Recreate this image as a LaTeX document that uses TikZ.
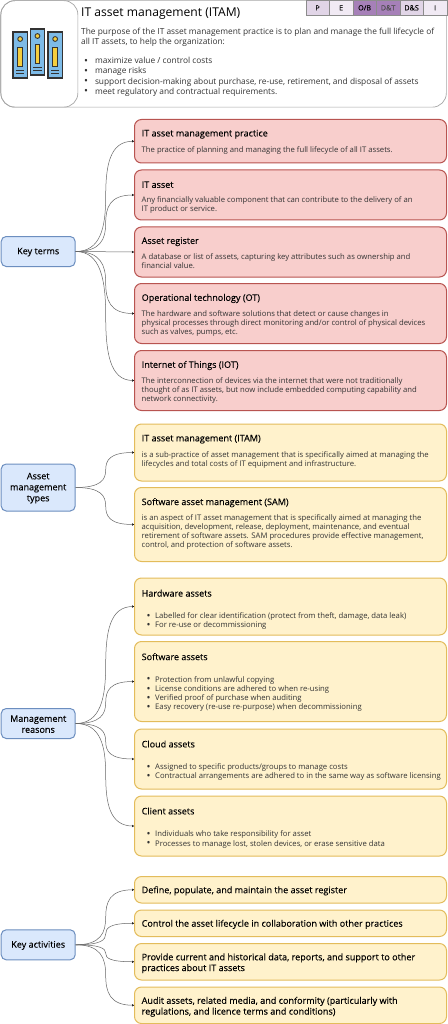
\documentclass[tikz,border=0pt]{standalone}
\usepackage{fontspec}
\setmainfont{Open Sans}
\newfontfamily\headf[FakeBold=0.12]{Open Sans}
\usetikzlibrary{arrows.meta,calc}
\definecolor{rfill}{HTML}{F8CECC}\definecolor{rline}{HTML}{B85450}
\definecolor{yfill}{HTML}{FFF2CC}\definecolor{yline}{HTML}{E3BC5B}
\definecolor{bfill}{HTML}{DAE8FC}\definecolor{bline}{HTML}{6C8EBF}
\definecolor{txt}{HTML}{333333}
\definecolor{tabd}{HTML}{A680B8}\definecolor{tabm}{HTML}{E1D5E7}\definecolor{tabl}{HTML}{F1EAF4}
\definecolor{rack}{HTML}{7DBBE8}\definecolor{rackline}{HTML}{333333}\definecolor{racky}{HTML}{F5CE3E}
\tikzset{
  x=1pt,y=-1pt,
  card/.style={rectangle,rounded corners=7pt,line width=1pt,anchor=north west,inner sep=0pt},
  redcard/.style={card,draw=rline,fill=rfill},
  yelcard/.style={card,draw=yline,fill=yfill},
  keycard/.style={card,rounded corners=5pt,draw=bline,fill=bfill},
  keytxt/.style={align=center,inner sep=0pt,yshift=-0.6pt,font=\headf\fontsize{9.05}{11}\selectfont,text=black},
  head/.style={anchor=west,yshift=-1pt,font=\headf\fontsize{9.05}{11}\selectfont,text=black,inner sep=0pt},
  body/.style={anchor=north west,yshift=-1.8pt,align=left,font=\fontsize{7.7}{9.1}\selectfont,text=txt,inner sep=0pt},
  act/.style={anchor=west,yshift=-0.8pt,align=left,font=\headf\fontsize{9.05}{10.8}\selectfont,text=black,inner sep=0pt},
  conn/.style={draw=black!60,line width=0.5pt,-{Stealth[length=2pt,width=2.4pt,color=black]}},
  tab/.style={draw=black!45,line width=0.7pt,anchor=north west,inner sep=0pt,font=\headf\fontsize{7.2}{9}\selectfont,text=black},
  rackbox/.style={draw=rackline,line width=1.1pt,fill=rack},
  racky/.style={draw=rackline,line width=0.9pt,fill=racky},
  rackl/.style={draw=rackline,line width=0.7pt},
}
\newcommand{\mkcard}[6]{% name, style, x, y0, w, h
  \node[#2,minimum width=#5pt,minimum height=#6pt] (#1) at (#3,#4) {};}
\newcommand{\linkto}[2]{%
  \draw[conn] let \p1=(#1.east),\p2=(#2.west),\n1={\x1+30pt},\n2={(\y1+\y2)/2},\n3={(\y2-\y1)*0.22} in
   (\p1) .. controls (\x1+25pt,\y1) and (\n1,\y1+\n3) .. (\n1,\n2)
   .. controls (\n1,\y2-\n3) and (\n1+4pt,\y2) .. (\p2);}
\newcommand{\bigdot}[1]{\makebox[#1][l]{\hspace{2.4pt}\raisebox{-0.35pt}{\fontsize{10.5}{9}\selectfont\textbullet}}}
\newcommand{\blt}[1]{\bigdot{11pt}#1}
\newcommand{\hlt}[1]{\bigdot{13.3pt}#1}
\begin{document}
\begin{tikzpicture}
\useasboundingbox (0,0) rectangle (447,1024);
\fill[white] (0,0) rectangle (447,1024);
% header
\node[draw=black!35,line width=0.7pt,rounded corners=14pt,anchor=north west,minimum width=445.5pt,minimum height=106.5pt,inner sep=0pt] (hdr) at (0.5,0.3) {};
\node[draw=black!35,line width=0.7pt,rounded corners=14pt,anchor=north west,minimum width=77pt,minimum height=106.5pt,inner sep=0pt] (icon) at (0.5,0.3) {};
\foreach \x/\y in {13/32,30.3/29,48/32}{
  \draw[rackbox] (\x,\y) rectangle (\x+14.3,\y+46);
  \draw[racky] (\x+7.15,\y+7) circle (2.4);
  \draw[racky] (\x+4.7,\y+15.5) rectangle (\x+9.6,\y+34.5);
  \draw[rackl] (\x+3,\y+38.5) -- (\x+11.3,\y+38.5);
  \draw[rackl] (\x+3,\y+41.5) -- (\x+11.3,\y+41.5);
}
\node[anchor=west,inner sep=0pt,font=\fontsize{12.1}{15}\selectfont,text=black] (title) at (81,14) {IT asset management (ITAM)};
\node[body,yshift=0pt,font=\fontsize{8.35}{10.1}\selectfont] (intro) at (81,26.3) {The purpose of the IT asset management practice is to plan and manage the full lifecycle of\\all IT assets, to help the organization:};
\node[body,yshift=0pt,font=\fontsize{8.35}{10.1}\selectfont] (ilist) at (81.5,55.5) {\hlt{maximize value / control costs}\\\hlt{manage risks}\\\hlt{support decision-making about purchase, re-use, retirement, and disposal of assets}\\\hlt{meet regulatory and contractual requirements.}};
% tabs
\node[tab,fill=tabm,minimum width=23.5pt,minimum height=15pt] (tP) at (305.5,0) {P};
\node[tab,fill=tabl,minimum width=23.5pt,minimum height=15pt] (tE) at (329,0) {E};
\node[tab,fill=tabd,minimum width=23.5pt,minimum height=15pt] (tO) at (352.5,0) {O/B};
\node[tab,fill=tabd,minimum width=23.5pt,minimum height=15pt,text=black!70] (tD) at (376,0) {D\&T};
\node[tab,fill=tabm,minimum width=23.5pt,minimum height=15pt] (tS) at (399.5,0) {D\&S};
\node[tab,fill=tabl,minimum width=23.5pt,minimum height=15pt] (tI) at (423,0) {I};
% key nodes
\node[keycard,minimum width=74pt,minimum height=30pt] (kt) at (0.7,236) {};
\node[keytxt] (ktt) at (kt.center) {Key terms};
\node[keycard,minimum width=74pt,minimum height=47pt] (am) at (0.7,463.5) {};
\node[keytxt] (amt) at (am.center) {Asset\\management\\types};
\node[keycard,minimum width=74pt,minimum height=30pt] (mr) at (0.7,708) {};
\node[keytxt] (mrt) at (mr.center) {Management\\reasons};
\node[keycard,minimum width=74pt,minimum height=30pt] (ka) at (0.7,929.3) {};
\node[keytxt] (kat) at (ka.center) {Key activities};
% red cards
\mkcard{a1}{redcard}{134}{119}{312}{43.5}
\mkcard{a2}{redcard}{134}{169.5}{312}{50}
\mkcard{a3}{redcard}{134}{226.5}{312}{50}
\mkcard{a4}{redcard}{134}{283}{312}{60}
\mkcard{a5}{redcard}{134}{350}{312}{60}
\node[head] (a1h) at (141.5,133.2) {IT asset management practice};
\node[body] (a1b) at (141.5,144.3) {The practice of planning and managing the full lifecycle of all IT assets.};
\node[head] (a2h) at (141.5,183.7) {IT asset};
\node[body] (a2b) at (141.5,194.7) {Any financially valuable component that can contribute to the delivery of an\\IT product or service.};
\node[head] (a3h) at (141.5,240.7) {Asset register};
\node[body] (a3b) at (141.5,251.7) {A database or list of assets, capturing key attributes such as ownership and\\financial value.};
\node[head] (a4h) at (141.5,297.5) {Operational technology (OT)};
\node[body] (a4b) at (141.5,308.7) {The hardware and software solutions that detect or cause changes in\\physical processes through direct monitoring and/or control of physical devices\\such as valves, pumps, etc.};
\node[head] (a5h) at (141.5,364.5) {Internet of Things (IOT)};
\node[body] (a5b) at (141.5,375.7) {The interconnection of devices via the internet that were not traditionally\\thought of as IT assets, but now include embedded computing capability and\\network connectivity.};
% yellow cards
\mkcard{b1}{yelcard}{134}{423.5}{312}{57}
\mkcard{b2}{yelcard}{134}{487}{312}{74}
\mkcard{c1}{yelcard}{134}{577.5}{312}{57}
\mkcard{c2}{yelcard}{134}{641}{312}{80}
\mkcard{c3}{yelcard}{134}{728.5}{312}{60}
\mkcard{c4}{yelcard}{134}{795.5}{312}{60}
\mkcard{d1}{yelcard}{134}{876}{312}{26.5}
\mkcard{d2}{yelcard}{134}{909.5}{312}{26.5}
\mkcard{d3}{yelcard}{134}{943}{312}{36.5}
\mkcard{d4}{yelcard}{134}{986.5}{312}{36.5}
\node[head] (b1h) at (141.5,438.2) {IT asset management (ITAM)};
\node[body] (b1b) at (141.5,449.2) {is a sub-practice of asset management that is specifically aimed at managing the\\lifecycles and total costs of IT equipment and infrastructure.};
\node[head] (b2h) at (141.5,501.7) {Software asset management (SAM)};
\node[body] (b2b) at (141.5,512.7) {is an aspect of IT asset management that is specifically aimed at managing the\\acquisition, development, release, deployment, maintenance, and eventual\\retirement of software assets. SAM procedures provide effective management,\\control, and protection of software assets.};
\node[head] (c1h) at (141.5,592.2) {Hardware assets};
\node[body] (c1b) at (144,611) {\blt{Labelled for clear identification (protect from theft, damage, data leak)}\\\blt{For re-use or decommissioning}};
\node[head] (c2h) at (141.5,655.7) {Software assets};
\node[body] (c2b) at (144,674.7) {\blt{Protection from unlawful copying}\\\blt{License conditions are adhered to when re-using}\\\blt{Verified proof of purchase when auditing}\\\blt{Easy recovery (re-use re-purpose) when decommissioning}};
\node[head] (c3h) at (141.5,743) {Cloud assets};
\node[body] (c3b) at (144,761.8) {\blt{Assigned to specific products/groups to manage costs}\\\blt{Contractual arrangements are adhered to in the same way as software licensing}};
\node[head] (c4h) at (141.5,810) {Client assets};
\node[body] (c4b) at (144,829) {\blt{Individuals who take responsibility for asset}\\\blt{Processes to manage lost, stolen devices, or erase sensitive data}};
\node[act] (d1t) at (141.5,890) {Define, populate, and maintain the asset register};
\node[act] (d2t) at (141.5,923.5) {Control the asset lifecycle in collaboration with other practices};
\node[act] (d3t) at (141.5,962.5) {Provide current and historical data, reports, and support to other\\practices about IT assets};
\node[act] (d4t) at (141.5,1006) {Audit assets, related media, and conformity (particularly with\\regulations, and licence terms and conditions)};
% connectors
\foreach \k/\c in {kt/a1,kt/a2,kt/a3,kt/a4,kt/a5,am/b1,am/b2,mr/c1,mr/c2,mr/c3,mr/c4,ka/d1,ka/d2,ka/d3,ka/d4}{\linkto{\k}{\c}}
\end{tikzpicture}
\end{document}
